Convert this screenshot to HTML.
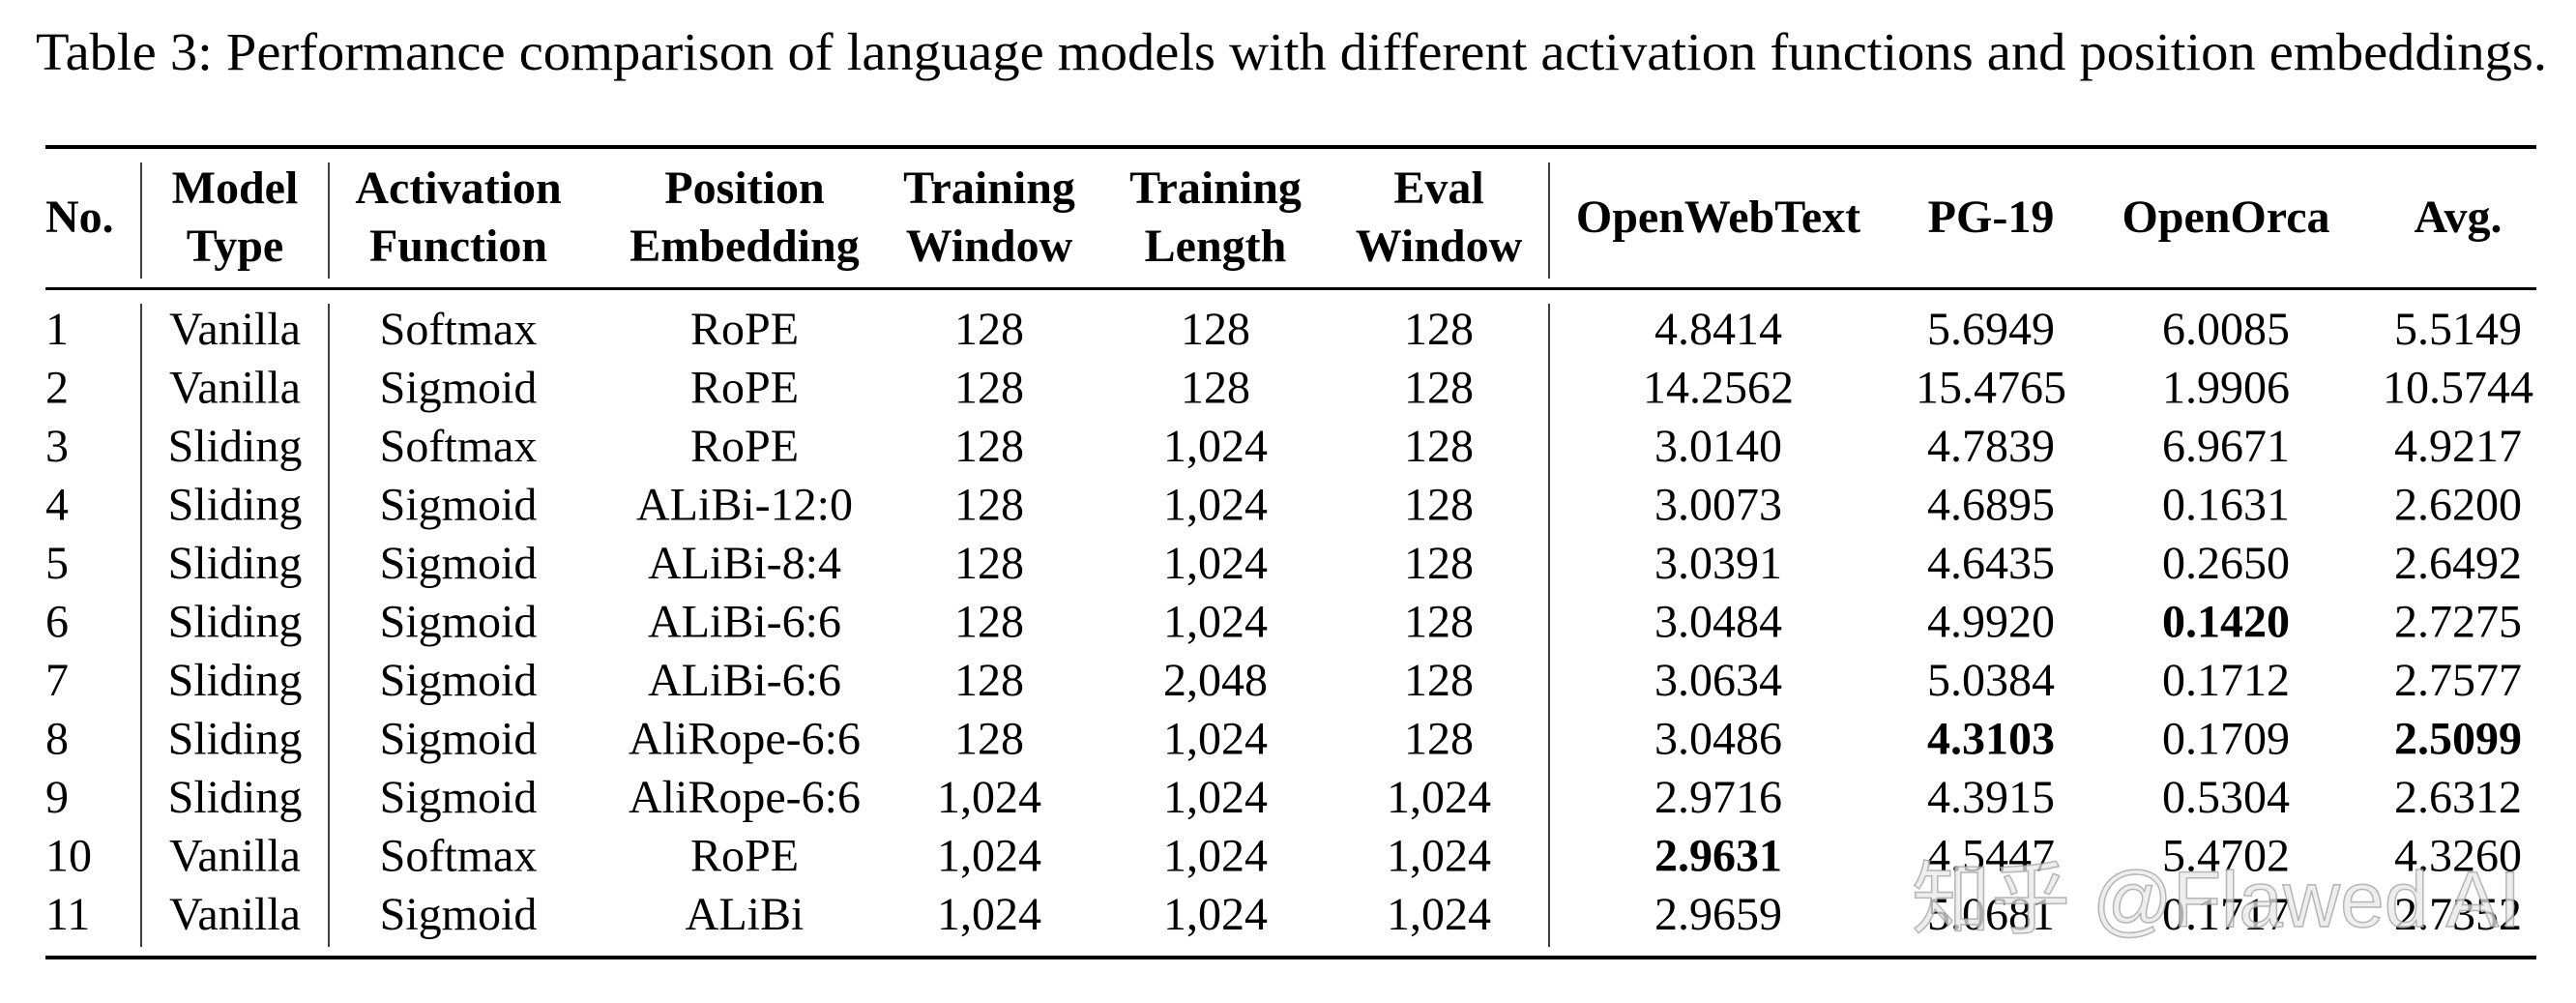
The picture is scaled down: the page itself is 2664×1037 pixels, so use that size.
<!DOCTYPE html>
<html><head><meta charset="utf-8"><style>
html,body{margin:0;padding:0;background:#fff;}
svg, svg text{font-family:"Liberation Serif",serif;}
</style></head><body>
<svg id="tbl" width="2664" height="1032" viewBox="0 0 2664 1032" xmlns="http://www.w3.org/2000/svg" font-family="Liberation Serif, serif">
<rect width="2664" height="1032" fill="#fff"/>
<text x="37" y="72" font-size="55" textLength="2597" lengthAdjust="spacingAndGlyphs">Table 3: Performance comparison of language models with different activation functions and position embeddings.</text>
<rect x="47" y="150" width="2576" height="4" fill="#000"/>
<rect x="47" y="297" width="2576" height="3" fill="#000"/>
<rect x="47" y="988" width="2576" height="4" fill="#000"/>
<g id="vlines" stroke="#000" stroke-width="1.5"></g>
<g id="head" font-weight="bold" font-size="48" text-anchor="middle"></g>
<g id="body" font-size="48" text-anchor="middle"></g>
<text x="2292" y="958" font-size="82" style="font-family:'Liberation Sans','Noto Sans CJK SC',sans-serif" text-anchor="middle" fill="#e8e8e8" fill-opacity="0.75" stroke="#9a9a9a" stroke-width="1.5" stroke-opacity="0.7">知乎 @Flawed AI</text>
</svg>
<script>
const colX=[47,243,474,770,1023,1257,1488,1777,2059,2302,2542];
const headers=[["No."],["Model","Type"],["Activation","Function"],["Position","Embedding"],["Training","Window"],["Training","Length"],["Eval","Window"],["OpenWebText"],["PG-19"],["OpenOrca"],["Avg."]];
const modelType=["Vanilla","Vanilla","Sliding","Sliding","Sliding","Sliding","Sliding","Sliding","Sliding","Vanilla","Vanilla"];
const activation=["Softmax","Sigmoid","Softmax","Sigmoid","Sigmoid","Sigmoid","Sigmoid","Sigmoid","Sigmoid","Softmax","Sigmoid"];
const posEmb=["RoPE","RoPE","RoPE","ALiBi-12:0","ALiBi-8:4","ALiBi-6:6","ALiBi-6:6","AliRope-6:6","AliRope-6:6","RoPE","ALiBi"];
const trainWin=["128","128","128","128","128","128","128","128","1,024","1,024","1,024"];
const trainLen=["128","128","1,024","1,024","1,024","1,024","2,048","1,024","1,024","1,024","1,024"];
const evalWin=["128","128","128","128","128","128","128","128","1,024","1,024","1,024"];
const owt=["4.8414","14.2562","3.0140","3.0073","3.0391","3.0484","3.0634","3.0486","2.9716","2.9631","2.9659"];
const pg19=["5.6949","15.4765","4.7839","4.6895","4.6435","4.9920","5.0384","4.3103","4.3915","4.5447","5.0681"];
const orca=["6.0085","1.9906","6.9671","0.1631","0.2650","0.1420","0.1712","0.1709","0.5304","5.4702","0.1717"];
const avg=["5.5149","10.5744","4.9217","2.6200","2.6492","2.7275","2.7577","2.5099","2.6312","4.3260","2.7352"];
const boldCells=[[9,7],[7,8],[5,9],[7,10]];
const NS="http://www.w3.org/2000/svg";
const rowY0=356, rowStep=60.5;
function rowY(i){return rowY0+i*rowStep;}
const head=document.getElementById('head');
headers.forEach((h,c)=>{
  h.forEach((line,k)=>{
    const t=document.createElementNS(NS,'text');
    
    
    t.setAttribute('x',colX[c]);
    const y=h.length===1?240:(k===0?210:270);
    t.setAttribute('y',y);
    if(c===0)t.setAttribute('text-anchor','start');
    t.textContent=line;
    head.appendChild(t);
  });
});
const cols=[modelType,activation,posEmb,trainWin,trainLen,evalWin,owt,pg19,orca,avg];
const body=document.getElementById('body');
for(let i=0;i<11;i++){
  const cells=[String(i+1)].concat(cols.map(a=>a[i]));
  cells.forEach((v,c)=>{
    const t=document.createElementNS(NS,'text');
    
    
    t.setAttribute('x',colX[c]);
    t.setAttribute('y',rowY(i));
    if(c===0)t.setAttribute('text-anchor','start');
    if(boldCells.some(b=>b[0]===i&&b[1]===c))t.setAttribute('font-weight','bold');
    t.textContent=v;
    body.appendChild(t);
  });
}
const vl=document.getElementById('vlines');
[146,340,1602].forEach(x=>{
  [[168,288],[314,979]].forEach(s=>{
    const l=document.createElementNS(NS,'line');
    
    
    l.setAttribute('x1',x);l.setAttribute('x2',x);
    l.setAttribute('y1',s[0]);l.setAttribute('y2',s[1]);
    vl.appendChild(l);
  });
});
</script>
</body></html>
